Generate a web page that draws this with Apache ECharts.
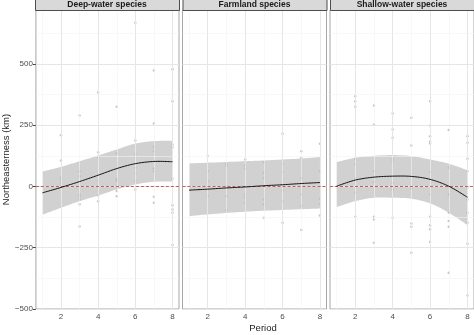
<!DOCTYPE html>
<html><head><meta charset="utf-8">
<script src="https://cdn.jsdelivr.net/npm/echarts@6/dist/echarts.min.js"></script>
<style>html,body{margin:0;padding:0;background:#fff}#c{width:474px;height:335px}</style>
</head><body><div id="c"></div>
<script>
const periods = [1, 2, 3, 4, 5, 6, 7, 8];
const panelTitles = ['Deep-water species', 'Farmland species', 'Shallow-water species'];
const xTicks = [2, 4, 6, 8];
const yTicks = [-500, -250, 0, 250, 500];
const yTickLabels = ['\u2212500', '\u2212250', '0', '250', '500'];

const deepPoints = [[2,209],[2,106],[2,38],[2,28],[2,15],[2,2],[3,290],[3,61],[3,42],[3,-33],[3,-41],[3,-53],[3,-73],[3,-163],[4,383],[4,140],[4,120],[4,22],[4,1],[4,-37],[4,-60],[5,325],[5,135],[5,29],[5,22],[5,-19],[5,-40],[6,668],[6,188],[6,133],[6,121],[6,76],[6,56],[6,22],[6,-12],[7,473],[7,257],[7,162],[7,144],[7,73],[7,62],[7,-42],[7,-66],[8,478],[8,348],[8,171],[8,160],[8,31],[8,-77],[8,-94],[8,-107],[8,-239]];
const farmPoints = [[2,124],[2,62],[2,22],[2,-40],[3,93],[3,86],[3,1],[3,-40],[3,-97],[4,110],[4,86],[4,72],[4,-33],[4,-46],[4,-66],[5,99],[5,56],[5,33],[5,-53],[5,-73],[5,-128],[6,215],[6,93],[6,60],[6,-16],[6,-60],[6,-148],[7,144],[7,117],[7,35],[7,-33],[7,-80],[7,-178],[8,174],[8,62],[8,-50],[8,-71],[8,-118]];
const shallowPoints = [[2,368],[2,348],[2,325],[2,113],[2,90],[2,35],[2,-26],[2,-124],[3,330],[3,253],[3,62],[3,18],[3,-124],[3,-135],[3,-230],[4,298],[4,232],[4,199],[4,113],[4,103],[4,15],[4,-12],[4,-128],[5,280],[5,167],[5,-9],[5,-151],[5,-164],[5,-270],[6,348],[6,249],[6,205],[6,182],[6,175],[6,58],[6,-33],[6,-124],[6,-158],[6,-175],[6,-226],[7,230],[7,76],[7,-33],[7,-107],[7,-141],[7,-164],[7,-352],[8,205],[8,178],[8,113],[8,62],[8,-5],[8,-53],[8,-107],[8,-148],[8,-234],[8,-445]];

const deepFit = [-26, -4, 20, 46, 73, 93, 102, 101];
const deepUpper = [61, 80, 103, 126, 151, 175, 185, 186];
const deepLower = [-115, -87, -60, -37, -12, 8, 19, 20];
const farmFit = [-15, -11, -6, -2, 3, 7, 12, 16];
const farmUpper = [94, 97, 100, 103, 106, 110, 114, 120];
const farmLower = [-121, -114, -108, -103, -99, -96, -93, -90];
const shallowFit = [1, 26, 38, 42, 41, 29, 1, -44];
const shallowUpper = [99, 117, 125, 128, 124, 110, 93, 66];
const shallowLower = [-84, -60, -46, -46, -50, -69, -107, -158];

const panels = [
  {points: deepPoints, fit: deepFit, upper: deepUpper, lower: deepLower},
  {points: farmPoints, fit: farmFit, upper: farmUpper, lower: farmLower},
  {points: shallowPoints, fit: shallowFit, upper: shallowUpper, lower: shallowLower}
];

const lefts = [35, 182.5, 330];
const W = 144, TOP = 10, H = 299;
const FONT = 'Liberation Sans, Arial, sans-serif';

function smoothPts(P) {
  const out = [];
  const n = P.length;
  for (let i = 0; i < n - 1; i++) {
    const p0 = P[Math.max(0, i - 1)], p1 = P[i], p2 = P[i + 1], p3 = P[Math.min(n - 1, i + 2)];
    const c1 = [p1[0] + (p2[0] - p0[0]) / 6, p1[1] + (p2[1] - p0[1]) / 6];
    const c2 = [p2[0] - (p3[0] - p1[0]) / 6, p2[1] - (p3[1] - p1[1]) / 6];
    for (let s = 0; s < 12; s++) {
      const t = s / 12, u = 1 - t;
      out.push([
        u*u*u*p1[0] + 3*u*u*t*c1[0] + 3*u*t*t*c2[0] + t*t*t*p2[0],
        u*u*u*p1[1] + 3*u*u*t*c1[1] + 3*u*t*t*c2[1] + t*t*t*p2[1]
      ]);
    }
  }
  out.push(P[n - 1]);
  return out;
}

const grids = [], xAxes = [], yAxes = [], series = [], graphics = [];
panels.forEach((p, i) => {
  grids.push({left: lefts[i], top: TOP, width: W, height: H, show: true,
    borderColor: '#a6a6a6', borderWidth: 1, backgroundColor: '#fff', containLabel: false});
  xAxes.push({type: 'value', gridIndex: i, min: 0.65, max: 8.35,
    axisLine: {show: false}, splitLine: {show: false},
    axisTick: {show: true, customValues: xTicks, length: 3, lineStyle: {color: '#444'}},
    axisLabel: {show: true, customValues: xTicks, formatter: v => String(v), color: '#4d4d4d', fontSize: 8, margin: 4, fontFamily: FONT}
  });
  yAxes.push({type: 'value', gridIndex: i, min: -500, max: 720,
    axisLine: {show: false}, splitLine: {show: false},
    axisTick: {show: i === 0, customValues: yTicks, length: 3, lineStyle: {color: '#444'}},
    axisLabel: {show: i === 0, customValues: yTicks, formatter: v => yTickLabels[yTicks.indexOf(v)], color: '#4d4d4d', fontSize: 8, margin: 3, fontFamily: FONT},
    name: i === 0 ? 'Northeasterness (km)' : '', nameLocation: 'middle', nameGap: 21,
    nameTextStyle: {fontSize: 9.5, color: '#222', fontFamily: FONT}
  });
  const gl = [];
  [1,3,5,7].forEach(v => gl.push({xAxis: v, lineStyle: {color: '#f3f3f3', width: 0.6, type: 'solid'}}));
  [2,4,6,8].forEach(v => gl.push({xAxis: v, lineStyle: {color: '#e6e6e6', width: 1, type: 'solid'}}));
  [-375,-125,125,375,625].forEach(v => gl.push({yAxis: v, lineStyle: {color: '#f3f3f3', width: 0.6, type: 'solid'}}));
  yTicks.forEach(v => gl.push({yAxis: v, lineStyle: {color: '#e6e6e6', width: 1, type: 'solid'}}));
  series.push({type: 'line', xAxisIndex: i, yAxisIndex: i, data: [], z: 1, silent: true,
    markLine: {silent: true, symbol: 'none', label: {show: false}, animation: false, data: gl}});
  series.push({type: 'custom', xAxisIndex: i, yAxisIndex: i, z: 2, silent: true,
    data: periods.map((x, k) => [x, p.lower[k], p.upper[k]]),
    encode: {x: 0, y: [1, 2]},
    renderItem: (params, api) => {
      if (params.dataIndex !== 0) return null;
      const up = smoothPts(periods.map((x, k) => api.coord([x, p.upper[k]])));
      const lo = smoothPts(periods.map((x, k) => api.coord([x, p.lower[k]]))).reverse();
      return {type: 'polygon', shape: {points: up.concat(lo)}, style: {fill: '#999999', opacity: 0.45}};
    }});
  series.push({type: 'scatter', xAxisIndex: i, yAxisIndex: i, data: p.points, symbolSize: 2.5,
    itemStyle: {color: '#bdbdbd', opacity: 0.85}, z: 3, silent: true});
  series.push({type: 'line', xAxisIndex: i, yAxisIndex: i, data: [], z: 4, silent: true,
    markLine: {silent: true, symbol: 'none', label: {show: false}, animation: false,
      data: [{yAxis: 0, lineStyle: {color: '#c95c5c', width: 1, type: [3, 2]}}]}});
  series.push({type: 'custom', xAxisIndex: i, yAxisIndex: i, z: 5, silent: true,
    data: periods.map((x, k) => [x, p.fit[k]]),
    encode: {x: 0, y: 1},
    renderItem: (params, api) => {
      if (params.dataIndex !== 0) return null;
      const pts = smoothPts(periods.map((x, k) => api.coord([x, p.fit[k]])));
      return {type: 'polyline', shape: {points: pts}, style: {stroke: '#111', lineWidth: 1, fill: null}};
    }});
  graphics.push({type: 'rect', left: lefts[i], top: -2, shape: {width: W, height: 12},
    style: {fill: '#d9d9d9', stroke: '#4d4d4d', lineWidth: 1}, z: 10});
  graphics.push({type: 'text', x: lefts[i] + W / 2, y: 5, style: {text: panelTitles[i], fill: '#1a1a1a',
    font: 'bold 8.5px ' + FONT, align: 'center', verticalAlign: 'middle'}, z: 11});
});
graphics.push({type: 'text', x: 263, y: 328, style: {text: 'Period', fill: '#222', font: '9.5px ' + FONT,
  align: 'center', verticalAlign: 'middle'}, z: 11});

const chart = echarts.init(document.getElementById('c'), null, {renderer: 'canvas'});
chart.setOption({animation: false, grid: grids, xAxis: xAxes, yAxis: yAxes, series: series, graphic: graphics});
</script></body></html>
